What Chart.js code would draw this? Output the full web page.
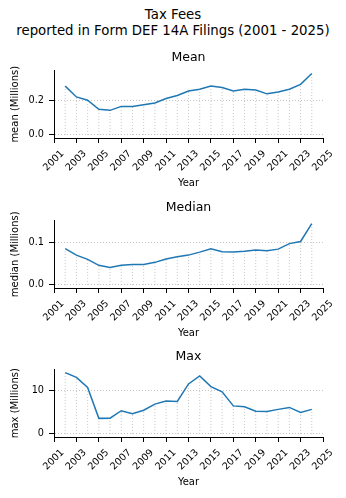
<!DOCTYPE html>
<html>
<head>
<meta charset="utf-8">
<script src="https://cdn.jsdelivr.net/npm/chart.js@4.4.1/dist/chart.umd.min.js"></script>
<style>
  body { margin: 0; background: #fff; }
  #wrap { position: relative; width: 346px; height: 498px; font-family: 'DejaVu Sans', sans-serif; }
  #title { position: absolute; left: 0; top: 6.5px; width: 346px; text-align: center; font-size: 13.3px; line-height: 16.7px; color: #000; }
  canvas { position: absolute; left: 0; }
</style>
</head>
<body>
<div id="wrap">
  <div id="title">Tax Fees<br>reported in Form DEF 14A Filings (2001 - 2025)</div>
  <canvas id="c-mean" width="346" height="141" style="top:49px"></canvas>
  <canvas id="c-median" width="346" height="141" style="top:199px"></canvas>
  <canvas id="c-max" width="346" height="141" style="top:348px"></canvas>
</div>
<script>
const years = [2002, 2003, 2004, 2005, 2006, 2007, 2008, 2009, 2010, 2011, 2012, 2013,
               2014, 2015, 2016, 2017, 2018, 2019, 2020, 2021, 2022, 2023, 2024];
const meanValues = [0.284, 0.221, 0.202, 0.149, 0.143, 0.166, 0.166, 0.176, 0.186, 0.212, 0.229, 0.255,
                    0.266, 0.284, 0.276, 0.256, 0.266, 0.261, 0.239, 0.250, 0.266, 0.294, 0.357];
const medianValues = [0.085, 0.070, 0.060, 0.046, 0.041, 0.046, 0.048, 0.048, 0.053, 0.061, 0.066, 0.070,
                      0.077, 0.085, 0.078, 0.077, 0.079, 0.082, 0.080, 0.084, 0.097, 0.102, 0.144];
const maxValues = [14.0, 12.9, 10.6, 3.55, 3.6, 5.3, 4.6, 5.4, 6.8, 7.5, 7.4, 11.4,
                   13.25, 10.8, 9.6, 6.4, 6.2, 5.2, 5.1, 5.6, 6.05, 4.9, 5.6];
const xTicks = [2001, 2003, 2005, 2007, 2009, 2011, 2013, 2015, 2017, 2019, 2021, 2023, 2025];
const meanTicks = [0, 0.2];
const medianTicks = [0, 0.1];
const maxTicks = [0, 10];

const lineColor = '#1f77b4';
const gridColor = '#b8b8b8';

Chart.defaults.font.family = "'DejaVu Sans', sans-serif";
Chart.defaults.color = '#000';

// dotted drop lines from 0 up to each point
const stemLines = {
  id: 'stemLines',
  beforeDatasetsDraw(chart) {
    const { ctx, scales: { x, y } } = chart;
    ctx.save();
    ctx.strokeStyle = gridColor;
    ctx.lineWidth = 0.8;
    ctx.setLineDash([1, 2]);
    chart.data.datasets[0].data.forEach(p => {
      const px = x.getPixelForValue(p.x);
      ctx.beginPath();
      ctx.moveTo(px, y.getPixelForValue(0));
      ctx.lineTo(px, y.getPixelForValue(p.y));
      ctx.stroke();
    });
    ctx.restore();
  }
};

// subplot title, centred over the plot area
const panelTitle = {
  id: 'panelTitle',
  afterDraw(chart, args, opts) {
    const { ctx, chartArea } = chart;
    ctx.save();
    ctx.font = "12.5px 'DejaVu Sans'";
    ctx.fillStyle = '#000';
    ctx.textAlign = 'center';
    ctx.textBaseline = 'middle';
    ctx.fillText(opts.text, (chartArea.left + chartArea.right) / 2, chartArea.top - 13);
    ctx.restore();
  }
};

function makePanel(id, title, yLabel, values, yTicks, decimals) {
  const top = Math.max(...values);
  new Chart(document.getElementById(id), {
    type: 'line',
    data: {
      datasets: [{
        data: years.map((yr, i) => ({ x: yr, y: values[i] })),
        borderColor: lineColor,
        borderWidth: 1.5,
        pointRadius: 0,
        tension: 0,
      }],
    },
    options: {
      responsive: false,
      animation: false,
      layout: { padding: { left: 0, top: 21.5, right: 23, bottom: 0 } },
      plugins: {
        legend: { display: false },
        tooltip: { enabled: false },
        panelTitle: { text: title },
      },
      scales: {
        x: {
          type: 'linear',
          min: 2001,
          max: 2025,
          afterBuildTicks: s => { s.ticks = xTicks.map(v => ({ value: v })); },
          afterFit: s => { s.height = 52; },
          ticks: {
            autoSkip: false,
            minRotation: 45,
            maxRotation: 45,
            labelOffset: 8.5,
            padding: 5,
            font: { size: 9.7 },
            callback: v => String(v),
          },
          grid: { drawOnChartArea: false, tickLength: 5, tickColor: '#000', tickWidth: 1 },
          border: { color: '#000', width: 1 },
          title: { display: true, text: 'Year', font: { size: 10 }, padding: { top: 0, bottom: 0.5 } },
        },
        y: {
          min: -0.05 * top,
          max: 1.05 * top,
          afterBuildTicks: s => { s.ticks = yTicks.map(v => ({ value: v })); },
          afterFit: s => { s.width = 54; },
          ticks: {
            padding: 5,
            font: { size: 9.7 },
            callback: v => v.toFixed(decimals),
          },
          grid: { color: gridColor, lineWidth: 0.8, tickLength: 5, tickColor: '#000', tickWidth: 1, tickBorderDash: [] },
          border: { color: '#000', width: 1, dash: [1, 2] },
          title: { display: true, text: yLabel, font: { size: 10 }, padding: { top: 9.5, bottom: 0 } },
        },
      },
    },
    plugins: [stemLines, panelTitle],
  });
}

makePanel('c-mean', 'Mean', 'mean (Millions)', meanValues, meanTicks, 1);
makePanel('c-median', 'Median', 'median (Millions)', medianValues, medianTicks, 1);
makePanel('c-max', 'Max', 'max (Millions)', maxValues, maxTicks, 0);
</script>
</body>
</html>
